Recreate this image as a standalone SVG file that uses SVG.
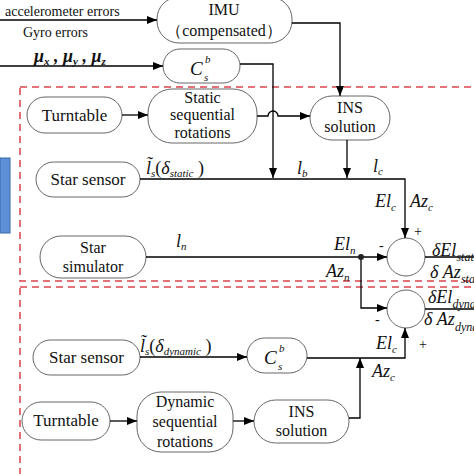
<svg xmlns="http://www.w3.org/2000/svg" width="474" height="474" viewBox="0 0 474 474">
<defs>
<marker id="arr" viewBox="0 0 10 8" refX="10" refY="4" markerWidth="10" markerHeight="8" markerUnits="userSpaceOnUse" orient="auto">
<path d="M0,0 L10,4 L0,8 Z" fill="#000"/>
</marker>
<style>
text{font-family:"Liberation Serif","Times New Roman","DejaVu Serif",serif;fill:#111}
.node{fill:#fff;stroke:#666;stroke-width:1}
.t{font-size:16px;text-anchor:middle}
.b{font-size:17px}
.l{font-size:18px;font-style:italic}
.s{font-size:11px}
.p{font-size:14px}
.c{fill:none;stroke:#000;stroke-width:1.3}
.red{fill:none;stroke:#d9434f;stroke-width:1.5;stroke-dasharray:7,5}
</style>
</defs>
<rect width="474" height="474" fill="#fff"/>
<rect x="0" y="158" width="10" height="75" fill="#5b8fd6" stroke="#3a6aa8" stroke-width="1"/>
<rect class="red" x="20" y="87" width="470" height="194"/>
<rect class="red" x="20" y="287" width="470" height="200"/>

<g id="imu"><rect class="node" x="157" y="-3" width="135" height="46" rx="22"/>
<text class="t" x="224" y="15">IMU</text>
<text class="t" x="224" y="36">（compensated）</text></g>
<g id="csb1"><rect class="node" x="163" y="49" width="77" height="34" rx="17"/>
<text class="l" x="190" y="75" style="font-size:19px">C</text><text class="l s" x="205" y="63">b</text><text class="l s" x="204" y="81">s</text></g>
<g id="turntable1"><rect class="node" x="27" y="97" width="95" height="36" rx="18"/>
<text class="t b" x="74.5" y="121">Turntable</text></g>
<g id="static"><rect class="node" x="148" y="89" width="109" height="54" rx="24"/>
<text class="t" x="202.5" y="103">Static</text><text class="t" x="202.5" y="120">sequential</text><text class="t" x="202.5" y="138">rotations</text></g>
<g id="ins1"><rect class="node" x="310" y="96" width="80" height="44" rx="22"/>
<text class="t" x="350" y="113">INS</text><text class="t" x="350" y="132">solution</text></g>
<g id="starsensor1"><rect class="node" x="36" y="162" width="104" height="35" rx="17.5"/>
<text class="t b" x="88" y="185">Star sensor</text></g>
<g id="starsim"><rect class="node" x="40" y="236" width="106" height="42" rx="21"/>
<text class="t" x="93" y="253">Star</text><text class="t" x="93" y="272">simulator</text></g>
<g id="sum1"><circle class="node" cx="406" cy="257" r="19"/></g>
<g id="sum2"><circle class="node" cx="406" cy="309" r="19"/></g>
<g id="starsensor2"><rect class="node" x="33" y="340" width="107" height="35" rx="17.5"/>
<text class="t b" x="86.5" y="363">Star sensor</text></g>
<g id="csb2"><rect class="node" x="247" y="338" width="60" height="35" rx="17.5"/>
<text class="l" x="264" y="364" style="font-size:19px">C</text><text class="l s" x="279" y="352">b</text><text class="l s" x="278" y="370">s</text></g>
<g id="turntable2"><rect class="node" x="22" y="402" width="88" height="38" rx="19"/>
<text class="t b" x="66" y="426">Turntable</text></g>
<g id="dynamic"><rect class="node" x="137" y="392" width="96" height="60" rx="24"/>
<text class="t" x="185" y="407">Dynamic</text><text class="t" x="185" y="427">sequential</text><text class="t" x="185" y="447">rotations</text></g>
<g id="ins2"><rect class="node" x="254" y="400" width="95" height="43" rx="21.5"/>
<text class="t" x="301.5" y="417">INS</text><text class="t" x="301.5" y="436">solution</text></g>

<g id="connectors">
<path class="c" d="M0,20 H157" marker-end="url(#arr)"/>
<path class="c" d="M0,66 H163" marker-end="url(#arr)"/>
<path class="c" d="M292,23 H340 V96" marker-end="url(#arr)"/>
<path class="c" d="M240,64 H273 V178" marker-end="url(#arr)"/>
<path class="c" d="M122,115 H148" marker-end="url(#arr)"/>
<path class="c" d="M257,116 H268 A5,5 0 0 1 278,116 H310" marker-end="url(#arr)"/>
<path class="c" d="M347,140 V178" marker-end="url(#arr)"/>
<path class="c" d="M140,179 H405 V238" marker-end="url(#arr)"/>
<path class="c" d="M146,257 H387" marker-end="url(#arr)"/>
<path class="c" d="M361,257 V308 H387" marker-end="url(#arr)"/>
<circle cx="361" cy="257" r="3" fill="#222"/>
<path class="c" d="M425,257 H474"/>
<path class="c" d="M425,309 H474"/>
<path class="c" d="M140,357 H247" marker-end="url(#arr)"/>
<path class="c" d="M307,358 H405 V328" marker-end="url(#arr)"/>
<path class="c" d="M349,418 H360 V358" marker-end="url(#arr)"/>
<path class="c" d="M110,421 H137" marker-end="url(#arr)"/>
<path class="c" d="M233,421 H254" marker-end="url(#arr)"/>
</g>

<g id="labels">
<text class="p" x="5" y="16">accelerometer errors</text>
<text class="p" x="23" y="37">Gyro errors</text>
<text class="l" x="34" y="62" style="font-weight:bold">μ<tspan class="s" dy="3">x</tspan><tspan dy="-3"> , μ</tspan><tspan class="s" dy="3">y</tspan><tspan dy="-3"> , μ</tspan><tspan class="s" dy="3">z</tspan></text>
<text class="l" x="146" y="174">l̃<tspan class="s" dy="3">s</tspan><tspan dy="-3" style="font-style:normal">(</tspan><tspan>δ</tspan><tspan class="s" dy="3">static</tspan><tspan dy="-3" style="font-style:normal"> )</tspan></text>
<text class="l" x="297" y="174">l<tspan class="s" dy="3">b</tspan></text>
<text class="l" x="373" y="172">l<tspan class="s" dy="3">c</tspan></text>
<text class="l" x="375" y="207">El<tspan class="s" dy="4">c</tspan></text>
<text class="l" x="410" y="207">Az<tspan class="s" dy="4">c</tspan></text>
<text class="l" x="176" y="247">l<tspan class="s" dy="3">n</tspan></text>
<text class="l" x="334" y="250">El<tspan class="s" dy="4">n</tspan></text>
<text class="l" x="326" y="277">Az<tspan class="s" dy="4">n</tspan></text>
<text x="414" y="236" style="font-size:14px">+</text>
<text x="379" y="250" style="font-size:14px">-</text>
<text class="l" x="432" y="256">δEl<tspan class="s" dy="5" style="font-size:12px">static</tspan></text>
<text class="l" x="430" y="278">δ Az<tspan class="s" dy="5" style="font-size:12px">static</tspan></text>
<text class="l" x="428" y="303">δEl<tspan class="s" dy="5" style="font-size:12px">dynamic</tspan></text>
<text class="l" x="424" y="325">δ Az<tspan class="s" dy="6" style="font-size:12px">dynamic</tspan></text>
<text x="375" y="324" style="font-size:14px">-</text>
<text x="419" y="349" style="font-size:14px">+</text>
<text class="l" x="140" y="352">l̃<tspan class="s" dy="3">s</tspan><tspan dy="-3" style="font-style:normal">(</tspan><tspan>δ</tspan><tspan class="s" dy="3">dynamic</tspan><tspan dy="-3" style="font-style:normal"> )</tspan></text>
<text class="l" x="376" y="349">El<tspan class="s" dy="4">c</tspan></text>
<text class="l" x="372" y="377">Az<tspan class="s" dy="4">c</tspan></text>
</g>
</svg>
